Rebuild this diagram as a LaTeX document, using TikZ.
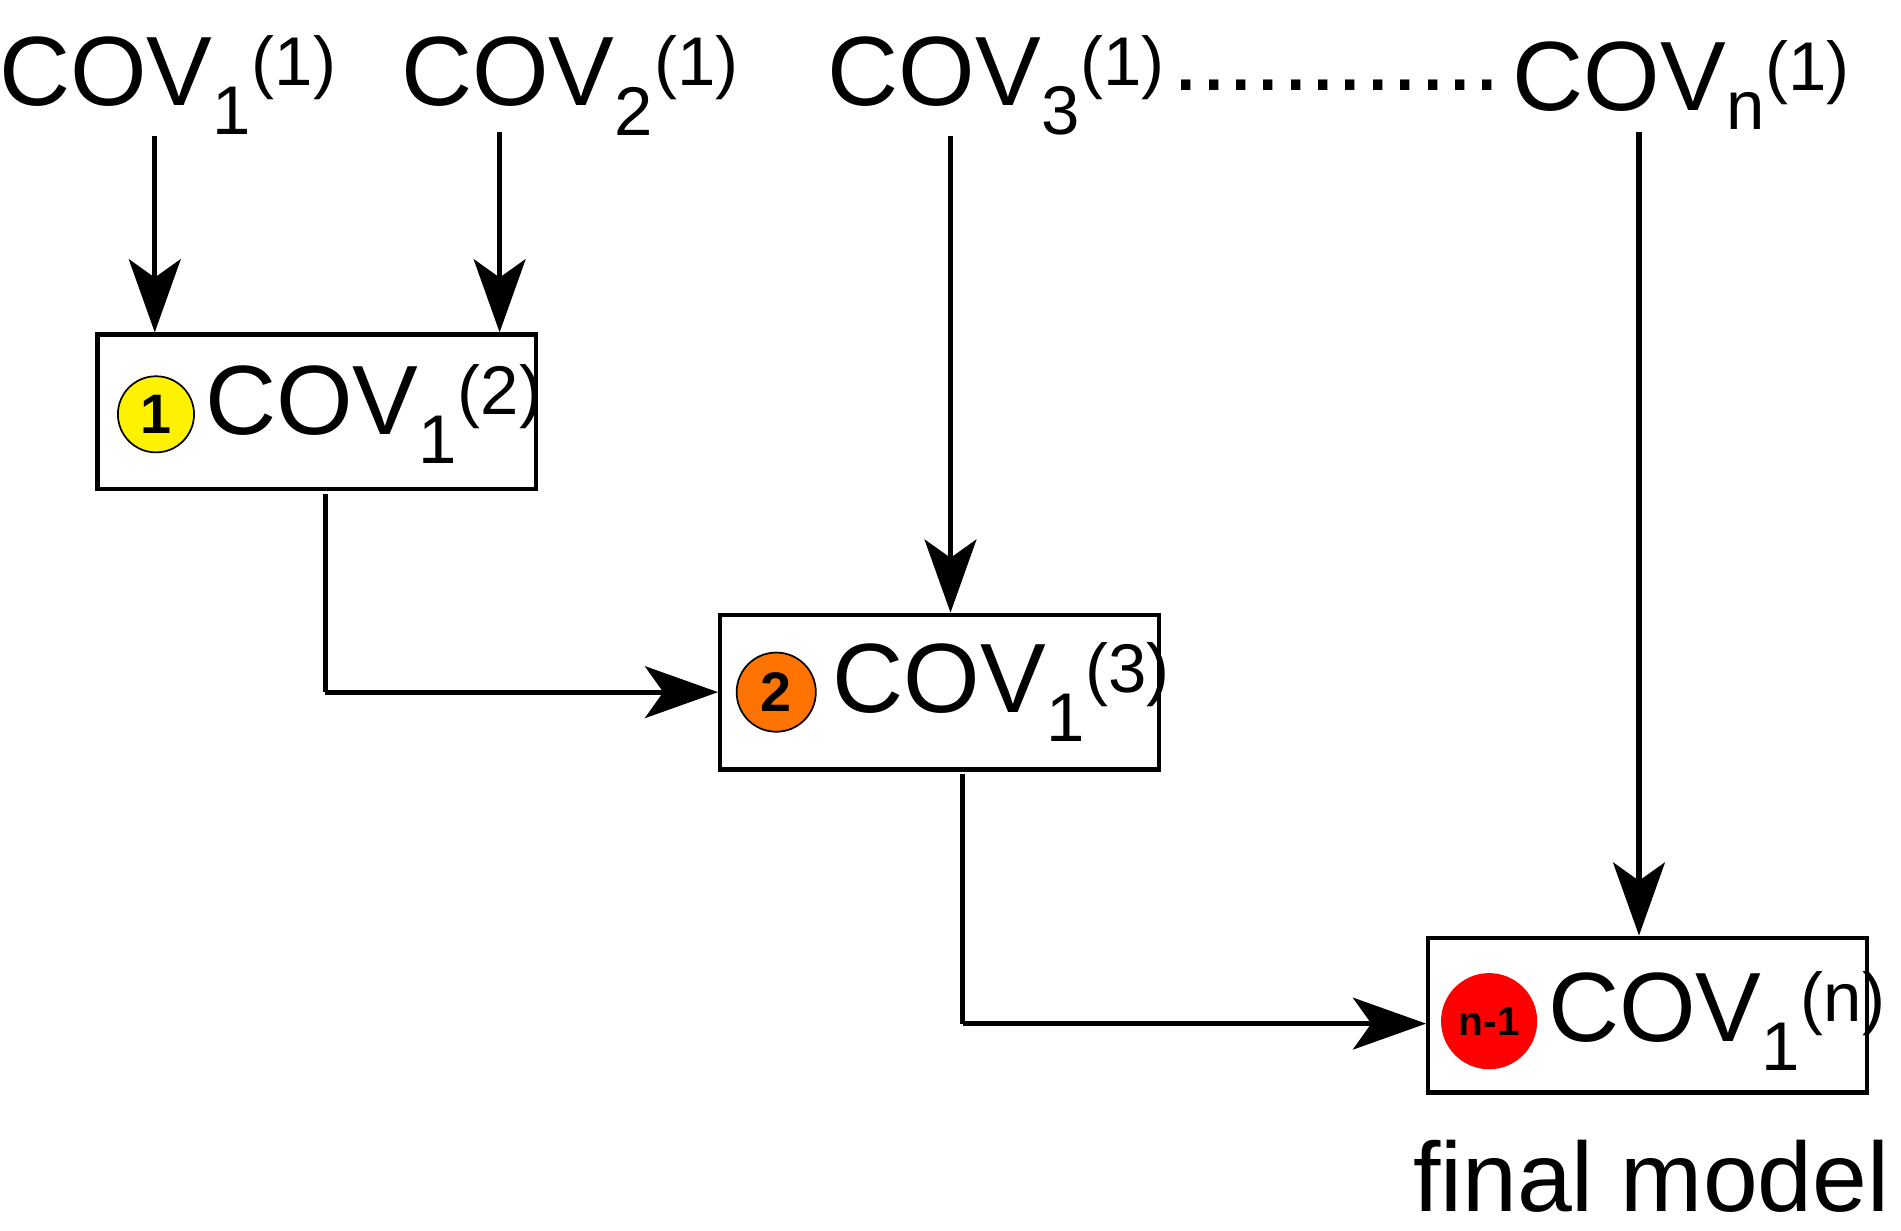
\documentclass[tikz,border=0pt]{standalone}
\usepackage{fontspec}
\setmainfont{Liberation Sans}
\usetikzlibrary{arrows.meta}
\begin{document}
\begin{tikzpicture}[x=0.02cm,y=-0.02cm,
  lbl/.style={font=\fontsize{46}{54}\selectfont, inner sep=0pt},
  box/.style={draw, line width=2pt, minimum width=7.2cm, minimum height=2.54cm, inner sep=0pt},
  badge/.style={circle, draw, line width=0.8pt, inner sep=0pt, font=\bfseries},
  arr/.style={line width=2.4pt, -{Stealth[length=1.2cm,width=0.85cm,inset=0.3cm]}},
  ln/.style={line width=2.4pt}]
\useasboundingbox (0,0) rectangle (1560,1010);
\node[lbl] (c1) at (138,70) {COV\textsubscript{1}\textsuperscript{(1)}};
\node[lbl] (c2) at (468,70) {COV\textsubscript{2}\textsuperscript{(1)}};
\node[lbl] (c3) at (818,70) {COV\textsubscript{3}\textsuperscript{(1)}};
\node[lbl] (cn) at (1380,70) {COV\textsubscript{n}\textsuperscript{(1)}};
\node[lbl] (dots) at (1097,70) {............};
\node[box] (b1) at (260,338) {};
\node[box] (b2) at (771,568) {};
\node[box] (b3) at (1352,833) {};
\node[badge, fill=yellow, minimum size=1.25cm, font=\fontsize{26}{30}\selectfont\bfseries] (k1) at (128,340) {1};
\node[lbl, anchor=west] (t1) at (168,340) {COV\textsubscript{1}\textsuperscript{(2)}};
\node[badge, fill=orange!90!red, minimum size=1.3cm, font=\fontsize{26}{30}\selectfont\bfseries] (k2) at (637,568) {2};
\node[lbl, anchor=west] (t2) at (683,568) {COV\textsubscript{1}\textsuperscript{(3)}};
\node[badge, draw=red, fill=red, minimum size=1.55cm, font=\fontsize{19}{22}\selectfont\bfseries] (k3) at (1222,838) {n-1};
\node[lbl, anchor=west] (t3) at (1270,838) {COV\textsubscript{1}\textsuperscript{(n)}};
\node[lbl] (fm) at (1355,965) {final model};
\coordinate (a1) at (127,112);
\coordinate (a2) at (410,108);
\coordinate (a3) at (780,112);
\coordinate (an) at (1345,108);
\draw[arr] (a1) -- (a1 |- b1.north);
\draw[arr] (a2) -- (a2 |- b1.north);
\draw[arr] (a3) -- (a3 |- b2.north);
\draw[arr] (an) -- (an |- b3.north);
\coordinate (d1) at (267,405);
\coordinate (e1) at (267,568);
\draw[ln] (d1) -- (e1);
\draw[arr] (e1) -- (b2.west |- e1);
\coordinate (d2) at (790,635);
\coordinate (e2) at (790,840);
\draw[ln] (d2) -- (e2);
\draw[arr] (e2) -- (b3.west |- e2);
\end{tikzpicture}
\end{document}
